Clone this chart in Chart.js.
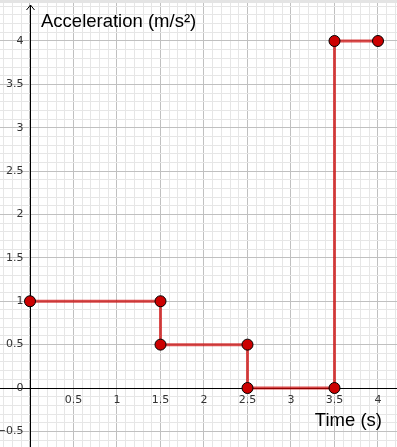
<!DOCTYPE html>
<html>
<head>
<meta charset="utf-8">
<script src="https://cdn.jsdelivr.net/npm/chart.js@4.4.1/dist/chart.umd.min.js"></script>
<style>
  html, body { margin: 0; padding: 0; background: #fff; }
  #wrap { width: 397px; height: 447px; position: relative; }
</style>
</head>
<body>
<div id="wrap"><canvas id="accelChart"></canvas></div>
<script>
// step-function acceleration data
const timeValues = [0, 1.5, 1.5, 2.5, 2.5, 3.5, 3.5, 4];
const accelValues = [1, 1, 0.5, 0.5, 0, 0, 4, 4];

const xTickLabels = [0.5, 1, 1.5, 2, 2.5, 3, 3.5, 4];
const yTickLabels = [-0.5, 0, 0.5, 1, 1.5, 2, 2.5, 3, 3.5, 4];

const xTitle = 'Time (s)';
const yTitle = 'Acceleration (m/s\u00b2)';

const isMajor = v => Math.abs(v * 2 - Math.round(v * 2)) < 1e-6;

const gridColor = ctx => {
    const v = ctx.tick ? ctx.tick.value : 0;
    return isMajor(v) ? '#c0c0c0' : '#e6e6e6';
};

// axes, arrow, tick labels and titles drawn at the origin like a graphing tool
const axesPlugin = {
    id: 'axesPlugin',
    beforeDraw(chart) {
        const c = chart.ctx;
        c.save();
        c.fillStyle = '#e4e4e4';
        c.fillRect(0, 0, chart.width, 3);
        c.restore();
    },
    beforeDatasetsDraw(chart) {
        const c = chart.ctx;
        const xs = chart.scales.x, ys = chart.scales.y;
        const area = chart.chartArea;
        const x0 = Math.round(xs.getPixelForValue(0)) + 0.5;
        const y0 = Math.round(ys.getPixelForValue(0)) + 0.5;
        c.save();
        c.strokeStyle = '#000';
        c.lineWidth = 1;
        c.beginPath();
        c.moveTo(area.left, y0); c.lineTo(area.right, y0);
        c.moveTo(x0, area.bottom); c.lineTo(x0, area.top + 2);
        // open arrow head on the y axis
        c.moveTo(x0 - 4, area.top + 7); c.lineTo(x0, area.top + 2); c.lineTo(x0 + 4, area.top + 7);
        c.stroke();

        c.fillStyle = '#333';
        c.font = '11px "DejaVu Sans", sans-serif';
        c.textAlign = 'center';
        c.textBaseline = 'middle';
        xTickLabels.forEach(v => {
            c.fillText(String(v), xs.getPixelForValue(v), y0 + 12);
        });
        c.textAlign = 'right';
        yTickLabels.forEach(v => {
            c.fillText(String(v).replace('-', '\u2212'), x0 - 7, ys.getPixelForValue(v));
        });

        c.fillStyle = '#000';
        c.font = '18.5px "Liberation Sans", sans-serif';
        c.textBaseline = 'alphabetic';
        c.textAlign = 'left';
        c.fillText(yTitle, x0 + 10.5, 27);
        c.textAlign = 'right';
        c.fillText(xTitle, 382, 426);
        c.restore();
    }
};

const points = timeValues.map((t, i) => ({ x: t, y: accelValues[i] }));

new Chart(document.getElementById('accelChart'), {
    type: 'scatter',
    data: {
        datasets: [{
            data: points,
            showLine: true,
            borderColor: 'rgba(204, 0, 0, 0.7)',
            borderWidth: 3,
            pointBackgroundColor: '#cc0000',
            pointBorderColor: '#000',
            pointBorderWidth: 1,
            pointRadius: 5.5,
            pointHoverRadius: 5.5
        }]
    },
    options: {
        responsive: true,
        maintainAspectRatio: false,
        animation: false,
        layout: { autoPadding: false, padding: { top: 3, left: 0, right: 0, bottom: 0 } },
        plugins: {
            legend: { display: false },
            tooltip: { enabled: false }
        },
        scales: {
            x: {
                type: 'linear',
                min: -0.3448,
                max: 4.2184,
                border: { display: false },
                ticks: { display: false, stepSize: 0.1, includeBounds: false },
                grid: { color: gridColor, drawTicks: false, lineWidth: 1 }
            },
            y: {
                type: 'linear',
                min: -0.68,
                max: 4.438,
                border: { display: false },
                ticks: { display: false, stepSize: 0.1, includeBounds: false },
                grid: { color: gridColor, drawTicks: false, lineWidth: 1 }
            }
        }
    },
    plugins: [axesPlugin]
});
</script>
</body>
</html>
